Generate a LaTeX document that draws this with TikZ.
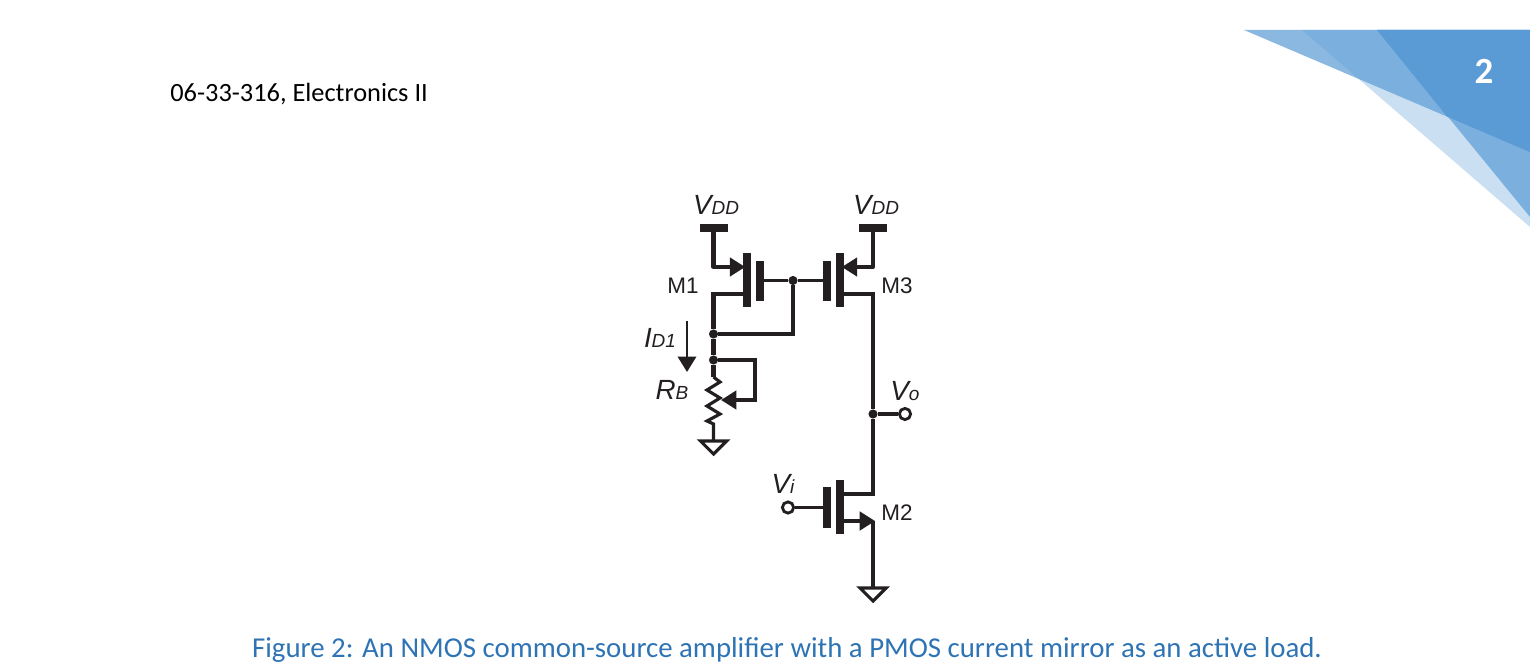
\documentclass[tikz,border=0pt]{standalone}
\usepackage{fontspec}
\setmainfont{Carlito}
\newfontfamily\labelfont{Liberation Sans}
\usetikzlibrary{arrows.meta}
\definecolor{slideblue}{HTML}{5B9BD5}
\definecolor{capblue}{HTML}{2E74B5}
\definecolor{ink}{HTML}{231F20}
\newcommand{\bigsub}[2]{{\fontsize{15.8}{16}\selectfont\itshape #1}{\fontsize{10.8}{11}\selectfont\itshape #2}}
\tikzset{
  wire/.style={draw=ink,line width=2.3pt},
  gatewire/.style={draw=ink,line width=1.3pt},
  plate/.style={draw=ink,line width=4.1pt},
  rail/.style={draw=ink,line width=4pt},
  dot/.style={circle,fill=ink,inner sep=0pt,minimum size=5.2pt},
  term/.style={circle,draw=ink,line width=1.6pt,fill=white,inner sep=0pt,minimum size=6.4pt},
  tag/.style={text=ink,font=\labelfont,inner sep=0pt},
  mos/.style={tag,font=\labelfont\fontsize{12.8}{13}\selectfont},
  head/.style={-{Triangle[length=8.8pt,width=10.4pt]}}
}
\begin{document}
\begin{tikzpicture}[x=.02cm,y=-.02cm]
\useasboundingbox (0,0) rectangle (1530,672);
% corner of the slide
\fill[slideblue,opacity=.71] (1244,30) -- (1530,30) -- (1530,152) -- cycle;
\fill[slideblue,opacity=.32] (1302,30) -- (1530,30) -- (1530,227) -- cycle;
\fill[slideblue,opacity=.71] (1377,30) -- (1530,30) -- (1530,217) -- cycle;
\fill[slideblue] (1377,30) -- (1530,30) -- (1530,152) -- (1447,116.5) -- cycle;
\node (pg) [text=white,font=\fontsize{21}{22}\selectfont\bfseries] at (1484,71) {2};
\node (hd) [right,inner sep=0pt,font=\fontsize{15}{16}\selectfont] at (170,94) {06-33-316, Electronics II};
\node (cap) [text=capblue,inner sep=0pt,font=\fontsize{16.4}{17}\selectfont] at (787,650)
    {Figure 2: An NMOS common-source amplifier with a PMOS current mirror as an active load.};
% points of the left branch
\coordinate (vl) at (713.5,228);
\coordinate (m1s) at (747,267);
\coordinate (m1d) at (747,294);
\coordinate (m1g) at (760,280.5);
\node (n1) [dot] at (713.5,334) {};
\node (n2) [dot] at (713.5,360) {};
\node (ng) [dot] at (793,280.5) {};
\coordinate (rt) at (713.5,377);
\coordinate (rb) at (713.5,424);
\coordinate (gl) at (713.5,441);
% points of the right branch
\coordinate (vr) at (873,228);
\coordinate (m3s) at (840,267);
\coordinate (m3d) at (840,294);
\coordinate (m3g) at (827,280.5);
\node (vo) [dot] at (873,414) {};
\node (vot) [term] at (905,414) {};
\coordinate (m2d) at (840,494);
\coordinate (m2s) at (840,521);
\coordinate (m2g) at (827,507.5);
\node (vit) [term] at (788,507.5) {};
\coordinate (m2e) at (873,521);
\coordinate (gr) at (873,588);
% rails
\draw[rail] (vl) ++(-14,0) -- ++(28,0);
\draw[rail] (vr) ++(-14,0) -- ++(28,0);
% plates
\draw[plate] (747,253) -- (747,307);
\draw[plate] (760,261) -- (760,301);
\draw[plate] (840,253) -- (840,307);
\draw[plate] (827,261) -- (827,301);
\draw[plate] (840,480) -- (840,534);
\draw[plate] (827,487) -- (827,528);
% wires
\draw[wire,line join=round,head] (vl) |- ([xshift=-1pt]m1s);
\draw[wire,line join=round,head] (vr) |- ([xshift=1pt]m3s);
\draw[wire,head] (m2s) -- ([xshift=1.2pt]m2e);
\draw[wire] (m1d) -| (n1) -- (n2) -- (rt);
\draw[wire] (n1) -| (ng);
\draw[gatewire] (m1g) -- (ng) -- (m3g);
\draw[wire] (m3d) -| (vo);
\draw[wire] (vo) -- (m2d -| vo) -- (m2d);
\draw[wire] (vo) -- (vot);
\draw[gatewire] (vit) -- (m2g);
\draw[wire] (m2e) -- (gr);
% resistor
\draw[wire,line width=1.8pt] (rt) -- (720,382) -- (707,390) -- (720,398) -- (707,406) -- (720,414) -- (707,421) -- (rb) -- (gl);
\draw[wire,line join=miter,head] (n2) -| (755,400) -- (721,400);
% grounds
\draw[wire,line width=1.8pt,line join=miter] (gl) ++(-13,0) -- ++(26,0) -- ++(-13,13) -- cycle;
\draw[wire,line width=1.8pt,line join=miter] (gr) ++(-13,0) -- ++(26,0) -- ++(-13,13) -- cycle;
% current arrow
\coordinate (it) at (687,321);
\draw[wire,line width=1.6pt,head] (it) -- ++(0,51);
% labels
\node (lv1) [tag] at (716,205) {\bigsub{V}{DD}};
\node (lv2) [tag] at (876,205) {\bigsub{V}{DD}};
\node (lm1) [mos] at (683,286) {M1};
\node (lm3) [mos] at (897,286) {M3};
\node (lm2) [mos] at (897,513) {M2};
\node (lid) [tag] at (660,338) {\bigsub{I}{D1}};
\node (lrb) [tag] at (672,390) {\bigsub{R}{B}};
\node (lvo) [tag] at (905,391) {\bigsub{V}{o}};
\node (lvi) [tag] at (783,484) {\bigsub{V}{i}};
\end{tikzpicture}
\end{document}
